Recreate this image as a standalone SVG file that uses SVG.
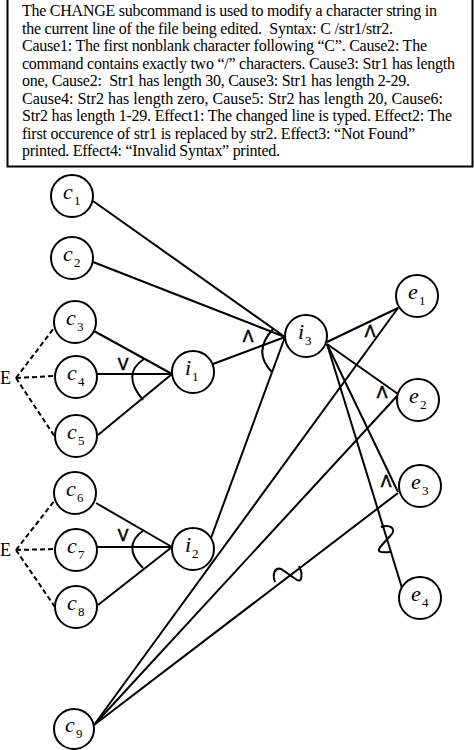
<svg xmlns="http://www.w3.org/2000/svg" width="474" height="750" viewBox="0 0 474 750">
<style>
.box{fill:#fff;stroke:#000;stroke-width:2}
.t{font-family:"Liberation Serif",serif;font-size:16px;fill:#000}
.n{fill:#fff;stroke:#000;stroke-width:2}
.lb{font-family:"Liberation Serif",serif;font-style:italic;font-size:22px;fill:#000}
.sb{font-family:"Liberation Serif",serif;font-size:13px;fill:#000}
.ln{stroke:#000;stroke-width:2;fill:none}
.ds{stroke:#000;stroke-width:2;fill:none;stroke-dasharray:5,3}
.op{font-family:"Liberation Sans",sans-serif;font-size:16px;fill:#000;stroke:#000;stroke-width:0.6;text-anchor:middle}
.e{font-family:"Liberation Serif",serif;font-size:18px;fill:#000}
</style>
<rect width="474" height="750" fill="#fff"/>
<g id="description">
<rect class="box" x="7.5" y="-1" width="465" height="167.5"/>
<text class="t" x="22" y="16" textLength="415">The CHANGE subcommand is used to modify a character string in</text>
<text class="t" x="22" y="33.5" textLength="371" xml:space="preserve">the current line of the file being edited.  Syntax: C /str1/str2.</text>
<text class="t" x="22" y="51" textLength="405">Cause1: The first nonblank character following “C”. Cause2: The</text>
<text class="t" x="22" y="68.5" textLength="433">command contains exactly two “/” characters. Cause3: Str1 has length</text>
<text class="t" x="22" y="86" textLength="388" xml:space="preserve">one, Cause2:  Str1 has length 30, Cause3: Str1 has length 2-29.</text>
<text class="t" x="22" y="103.5" textLength="421">Cause4: Str2 has length zero, Cause5: Str2 has length 20, Cause6:</text>
<text class="t" x="22" y="121" textLength="430">Str2 has length 1-29. Effect1: The changed line is typed. Effect2: The</text>
<text class="t" x="22" y="138.5" textLength="393">first occurence of str1 is replaced by str2. Effect3: “Not Found”</text>
<text class="t" x="22" y="156" textLength="258">printed. Effect4: “Invalid Syntax” printed.</text>
</g>
<g id="connectors">
<line class="ln" x1="93" y1="201" x2="285" y2="337"/>
<line class="ln" x1="93" y1="262" x2="285" y2="337"/>
<line class="ln" x1="213" y1="364" x2="285" y2="337"/>
<line class="ln" x1="211" y1="538" x2="285" y2="337"/>
<line class="ln" x1="94" y1="331" x2="172" y2="374"/>
<line class="ln" x1="97" y1="374" x2="172" y2="374"/>
<line class="ln" x1="98" y1="435" x2="172" y2="374"/>
<line class="ln" x1="96" y1="503" x2="172" y2="547"/>
<line class="ln" x1="97" y1="547" x2="172" y2="547"/>
<line class="ln" x1="98" y1="605" x2="172" y2="547"/>
<line class="ln" x1="327" y1="342" x2="398" y2="308"/>
<line class="ln" x1="327" y1="344" x2="398" y2="394"/>
<line class="ln" x1="327" y1="344" x2="398" y2="492"/>
<line class="ln" x1="327" y1="344" x2="402" y2="588"/>
<line class="ln" x1="94" y1="725" x2="398" y2="308"/>
<line class="ln" x1="94" y1="725" x2="398" y2="395"/>
<line class="ln" x1="94" y1="725" x2="398" y2="493"/>
<path class="ds" d="M16 378 L54 328 M16 378 L55 376 M16 378 L55 437"/>
<path class="ds" d="M16 550 L55 500 M16 550 L55 549 M16 550 L55 607"/>
<path class="ln" d="M144 359 Q121 374 143 400"/>
<path class="ln" d="M144 530 Q121 546 143 568"/>
<path class="ln" d="M273 329 Q252 352 272 372"/>
<path class="ln" d="M275 582 C272 574 275 567 281 569 L297 580 C302 583 303 574 299 566"/>
<path class="ln" d="M381 527 C390 524 397 529 391 535 L381 546 C376 552 380 553 390 552"/>
<text class="op" x="123" y="370">V</text>
<text class="op" x="123" y="541">V</text>
<text class="op" x="248" y="342">Λ</text>
<text class="op" x="370" y="337">Λ</text>
<text class="op" x="382" y="398">Λ</text>
<text class="op" x="386" y="487">Λ</text>
<text class="e" x="0" y="384">E</text>
<text class="e" x="0" y="556">E</text>
</g>
<g id="c1"><circle class="n" cx="72" cy="196" r="21"/><text class="lb" x="63" y="199">c</text><text class="sb" x="74" y="205">1</text></g>
<g id="c2"><circle class="n" cx="72" cy="258" r="21"/><text class="lb" x="63" y="261">c</text><text class="sb" x="74" y="267">2</text></g>
<g id="c3"><circle class="n" cx="75" cy="322" r="21"/><text class="lb" x="66" y="325">c</text><text class="sb" x="77" y="331">3</text></g>
<g id="c4"><circle class="n" cx="76" cy="377" r="21"/><text class="lb" x="67" y="380">c</text><text class="sb" x="78" y="386">4</text></g>
<g id="c5"><circle class="n" cx="76" cy="436" r="21"/><text class="lb" x="67" y="439">c</text><text class="sb" x="78" y="445">5</text></g>
<g id="c6"><circle class="n" cx="75" cy="493" r="21"/><text class="lb" x="66" y="496">c</text><text class="sb" x="77" y="502">6</text></g>
<g id="c7"><circle class="n" cx="76" cy="550" r="21"/><text class="lb" x="67" y="553">c</text><text class="sb" x="78" y="559">7</text></g>
<g id="c8"><circle class="n" cx="76" cy="607" r="21"/><text class="lb" x="67" y="610">c</text><text class="sb" x="78" y="616">8</text></g>
<g id="c9"><circle class="n" cx="74" cy="729" r="20"/><text class="lb" x="65" y="732">c</text><text class="sb" x="76" y="738">9</text></g>
<g id="i1"><circle class="n" cx="193" cy="372" r="21"/><text class="lb" x="185" y="375">i</text><text class="sb" x="192" y="381">1</text></g>
<g id="i2"><circle class="n" cx="193" cy="549" r="21"/><text class="lb" x="185" y="552">i</text><text class="sb" x="192" y="558">2</text></g>
<g id="i3"><circle class="n" cx="306" cy="336" r="21"/><text class="lb" x="298" y="339">i</text><text class="sb" x="305" y="345">3</text></g>
<g id="e1"><circle class="n" cx="417" cy="296" r="21"/><text class="lb" x="408" y="299">e</text><text class="sb" x="419" y="305">1</text></g>
<g id="e2"><circle class="n" cx="418" cy="400" r="21"/><text class="lb" x="409" y="403">e</text><text class="sb" x="420" y="409">2</text></g>
<g id="e3"><circle class="n" cx="420" cy="486" r="21"/><text class="lb" x="411" y="489">e</text><text class="sb" x="422" y="495">3</text></g>
<g id="e4"><circle class="n" cx="420" cy="598" r="21"/><text class="lb" x="411" y="601">e</text><text class="sb" x="422" y="607">4</text></g>
</svg>
